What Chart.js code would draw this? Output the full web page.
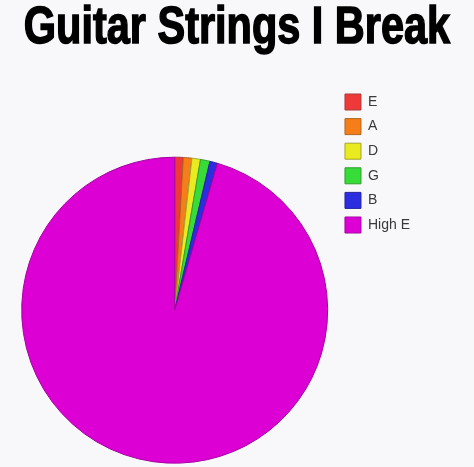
<!DOCTYPE html>
<html>
<head>
<meta charset="utf-8">
<script src="https://cdn.jsdelivr.net/npm/chart.js@4"></script>
<style>
  html, body { margin: 0; padding: 0; background: #f8f7fa; overflow: hidden; }
  body { width: 474px; height: 467px; position: relative; }
  h1 {
    position: absolute; top: 0; left: 50%; margin: 0;
    white-space: nowrap;
    font: bold 51px/1 "Liberation Sans", Arial, sans-serif;
    color: #000; -webkit-text-stroke: 1.5px #000; z-index: 2;
    transform: translateX(-50%) scaleX(0.813); transform-origin: 50% 0;
  }
  /* the box runs past the bottom of the window so the pie sits low */
  #wrap { position: absolute; top: 0; left: 0; width: 474px; height: 535px; }
</style>
</head>
<body>
<h1>Guitar Strings I Break</h1>
<div id="wrap"><canvas id="stringsChart"></canvas></div>
<script>
// Dữ liệu
const strings = ['E', 'A', 'D', 'G', 'B', 'High E'];
const breaks = [0.9, 0.9, 0.9, 1.0, 0.8, 95.5];
const fills = ['#ef3838', '#f67e18', '#eaea20', '#38dc38', '#2c2ce0', '#dc00d4'];
const edges = ['#a83a3a', '#b0661e', '#a4a430', '#2e9c2e', '#24249c', '#a400a0'];

const ctx = document.getElementById('stringsChart').getContext('2d');

const stringsChart = new Chart(ctx, {
    type: 'pie',
    data: {
        labels: strings,
        datasets: [{
            data: breaks,
            backgroundColor: fills,
            borderColor: edges,
            borderWidth: 1,
            radius: 153
        }]
    },
    options: {
        responsive: true,
        maintainAspectRatio: false,
        animation: false,
        layout: {
            padding: { top: 85.4, left: 13, right: 54, bottom: 0 }
        },
        plugins: {
            legend: {
                position: 'right',
                align: 'start',
                labels: {
                    boxWidth: 16,
                    boxHeight: 16,
                    padding: 8.6,
                    color: '#3a3a3a',
                    font: { family: '"Liberation Sans", Arial, sans-serif', size: 14 }
                }
            },
            tooltip: {
                callbacks: {
                    label: function (context) {
                        return `${context.label}: ${context.raw}%`;
                    }
                }
            }
        }
    }
});
</script>
</body>
</html>
